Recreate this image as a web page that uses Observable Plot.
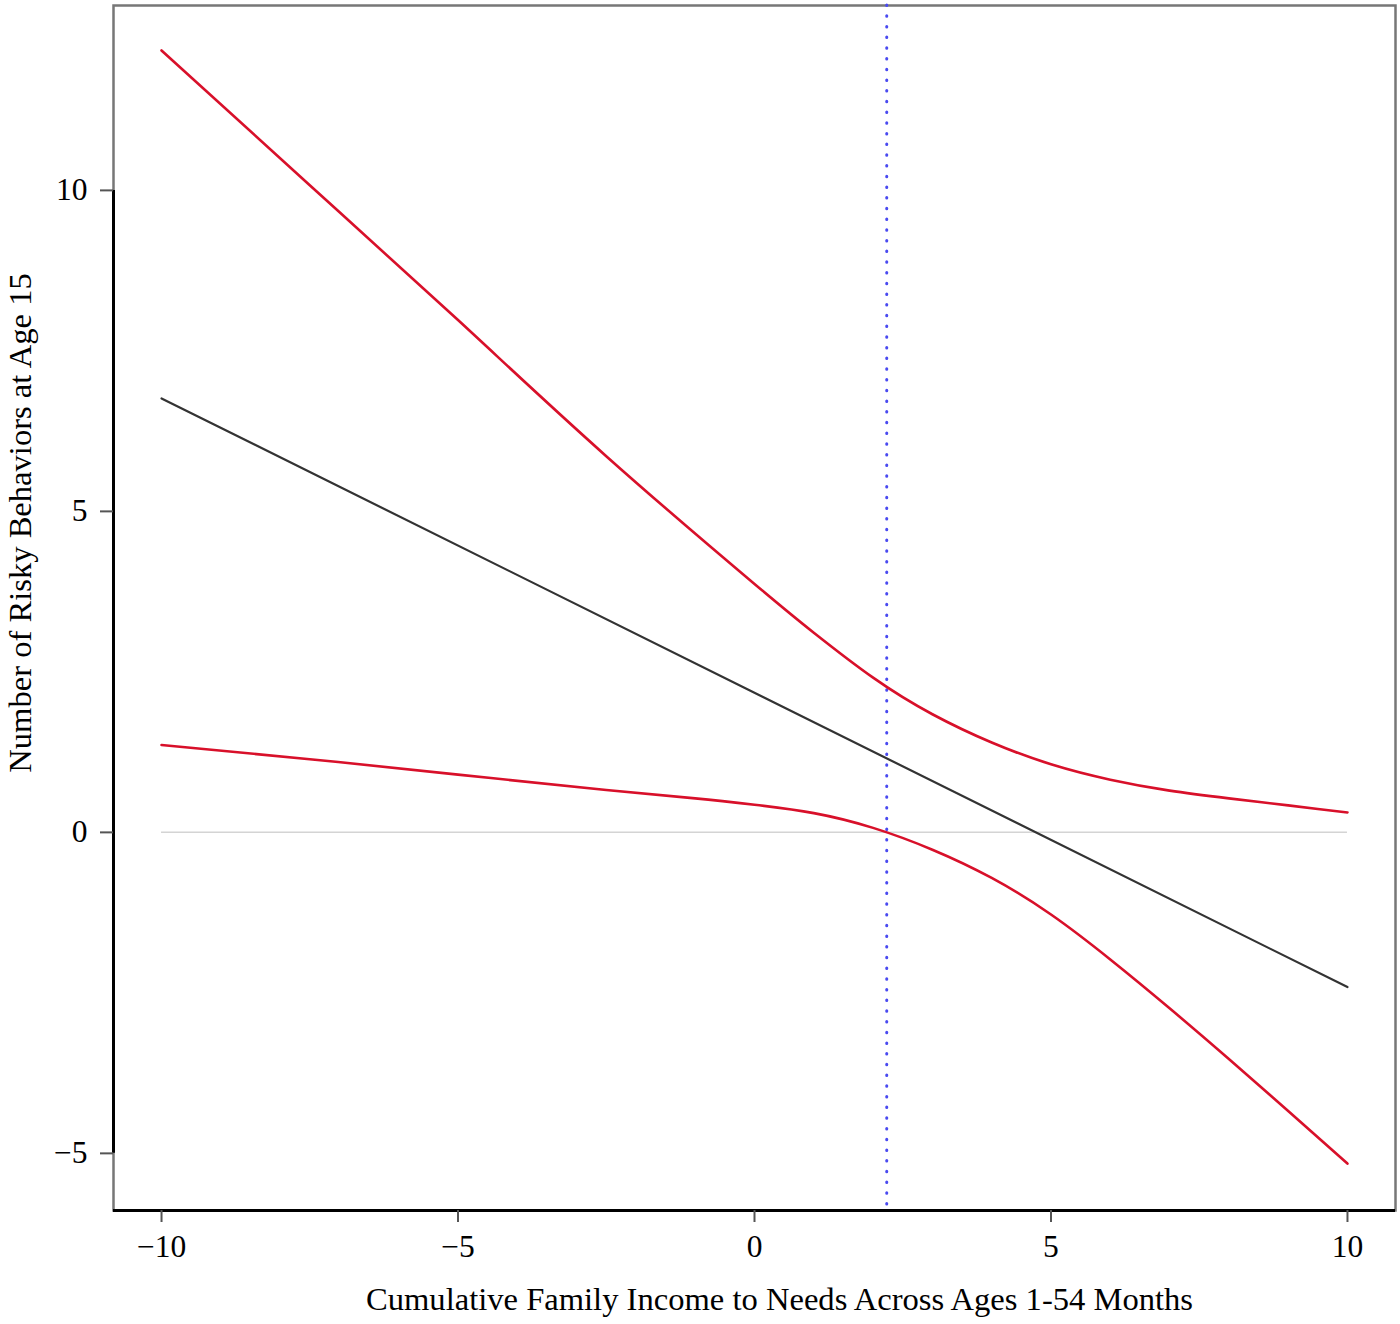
<!DOCTYPE html>
<html>
<head>
<meta charset="utf-8">
<script src="https://cdn.jsdelivr.net/npm/d3@7"></script>
<script src="https://cdn.jsdelivr.net/npm/@observablehq/plot@0.6"></script>
<style>
  html, body { margin: 0; padding: 0; background: #fff; }
  #chart svg { display: block; }
</style>
</head>
<body>
<div id="chart"></div>
<script>
// ---- data ----
const midX = [-10, 10];
const midY = [6.76, -2.41];

const upperX = [-10, -7.5, -5, -2.5, 0, 1, 2, 3, 4, 5, 6, 7, 8, 9, 10];
const upperY = [12.18, 10.08, 7.98, 5.86, 3.87, 3.11, 2.41, 1.84, 1.40, 1.06, 0.82, 0.65, 0.53, 0.42, 0.31];

const lowerX = [-10, -7.5, -5, -2.5, -1, 0, 1, 2, 3, 4, 5, 6, 7, 8, 9, 10];
const lowerY = [1.36, 1.14, 0.90, 0.66, 0.53, 0.43, 0.30, 0.07, -0.27, -0.71, -1.28, -1.98, -2.74, -3.53, -4.34, -5.16];

const regionOfSignificance = [2.23];
const zeroLine = [0];
const xTicks = [-10, -5, 0, 5, 10];
const yTicks = [-5, 0, 5, 10];
const xDomain = [-10.81, 10.81];
const yDomain = [-5.89, 12.88];
const xTitle = "Cumulative Family Income to Needs Across Ages 1-54 Months";
const yTitle = "Number of Risky Behaviors at Age 15";

const mid = midX.map((x, i) => ({x, y: midY[i]}));
const upper = upperX.map((x, i) => ({x, y: upperY[i]}));
const lower = lowerX.map((x, i) => ({x, y: lowerY[i]}));

const font = "Liberation Serif, Times New Roman, serif";
const fmt = (d) => (d < 0 ? "\u2212" + (-d) : String(d));

const chart = Plot.plot({
  width: 1400,
  height: 1324,
  marginLeft: 113,
  marginRight: 5,
  marginTop: 5,
  marginBottom: 114,
  style: {fontFamily: font, fontSize: "31px", background: "#fff", color: "#000"},
  x: {domain: xDomain},
  y: {domain: yDomain},
  marks: [
    Plot.frame({stroke: "#777", strokeWidth: 2.5}),
    Plot.ruleX([xDomain[0]], {y1: yTicks[0], y2: yTicks[yTicks.length - 1], stroke: "#000", strokeWidth: 3}),
    Plot.ruleY([yDomain[0]], {stroke: "#000", strokeWidth: 3}),
    Plot.axisX(xTicks, {tickSize: 12, tickPadding: 12, fontSize: 31.5, tickFormat: fmt, label: null, stroke: "#555", strokeWidth: 2}),
    Plot.axisY(yTicks, {tickSize: 13, tickPadding: 13, fontSize: 31.5, tickFormat: fmt, label: null, stroke: "#555", strokeWidth: 2}),
    Plot.ruleY(zeroLine, {x1: xTicks[0], x2: xTicks[xTicks.length - 1], stroke: "#d4d4d4", strokeWidth: 1.5}),
    Plot.ruleX(regionOfSignificance, {stroke: "#4a4af0", strokeWidth: 3, strokeLinecap: "round", strokeDasharray: "0.5,10.2"}),
    Plot.line(mid, {x: "x", y: "y", stroke: "#333", strokeWidth: 2.2}),
    Plot.line(upper, {x: "x", y: "y", curve: "natural", stroke: "#d8102a", strokeWidth: 2.6}),
    Plot.line(lower, {x: "x", y: "y", curve: "natural", stroke: "#d8102a", strokeWidth: 2.6}),
    Plot.text([xTitle], {frameAnchor: "bottom", dx: 25, dy: 89, fontSize: 32.6, textAnchor: "middle", lineAnchor: "middle", fill: "#000"}),
    Plot.text([yTitle], {frameAnchor: "left", dx: -93, dy: -85, rotate: -90, fontSize: 32.6, textAnchor: "middle", lineAnchor: "middle", fill: "#000"})
  ]
});
document.getElementById("chart").appendChild(chart);
</script>
</body>
</html>
